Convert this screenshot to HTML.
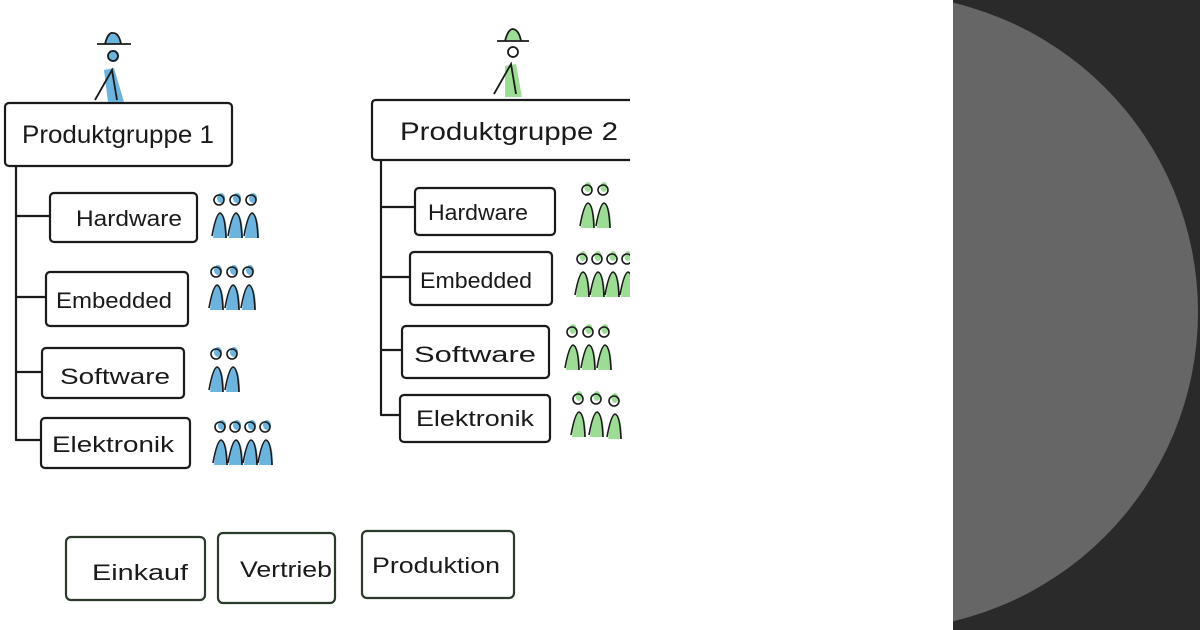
<!DOCTYPE html>
<html><head><meta charset="utf-8"><style>
html,body{margin:0;padding:0;width:1200px;height:630px;overflow:hidden;background:#fff}
svg{display:block}
text{font-family:"Liberation Sans",sans-serif;fill:#1a1a1a}
</style></head><body>
<svg width="1200" height="630" viewBox="0 0 1200 630" xmlns="http://www.w3.org/2000/svg">
<defs>
<g id="pb">
 <ellipse cx="2" cy="-2" rx="4" ry="5" fill="#6ab4de"/>
 <path d="M-6 38 Q-3 14 2 13 Q8 16 8 38 Z" fill="#6ab4de"/>
 <circle cx="0" cy="0" r="5" fill="none" stroke="#1a1a1a" stroke-width="1.6"/>
 <path d="M-7 36 Q-3 14 1 13 Q6 14 7 38" fill="none" stroke="#1a1a1a" stroke-width="1.6"/>
</g>
<g id="pg">
 <ellipse cx="1" cy="-3" rx="3.5" ry="5" fill="#9ddc94"/>
 <path d="M-6 38 Q-3 14 2 13 Q8 16 8 38 Z" fill="#9ddc94"/>
 <circle cx="0" cy="0" r="5" fill="none" stroke="#1a1a1a" stroke-width="1.6"/>
 <path d="M-7 36 Q-3 14 1 13 Q6 14 7 38" fill="none" stroke="#1a1a1a" stroke-width="1.6"/>
</g>
</defs>
<rect x="953" y="0" width="247" height="630" fill="#2a2a2a"/>
<clipPath id="c"><rect x="953" y="0" width="247" height="630"/></clipPath>
<ellipse cx="879" cy="312" rx="319" ry="318" fill="#666" clip-path="url(#c)"/>

<g fill="none" stroke="#1a1a1a" stroke-width="2.2" stroke-linejoin="round">
 <rect x="5" y="103" width="227" height="63" rx="4"/>
 <path d="M16 166 L16 440 L41 440"/>
 <path d="M16 216 L50 216 M16 297 L46 297 M16 372 L42 372"/>
 <rect x="50" y="193" width="147" height="49" rx="4"/>
 <rect x="46" y="272" width="142" height="54" rx="4"/>
 <rect x="42" y="348" width="142" height="50" rx="4"/>
 <rect x="41" y="418" width="149" height="50" rx="4"/>
 <path d="M640 100 L376 100 Q372 100 372 104 L372 156 Q372 160 376 160 L640 160"/>
 <path d="M381 160 L381 415 L400 415"/>
 <path d="M381 207 L415 207 M381 277 L410 277 M381 350 L402 350"/>
 <rect x="415" y="188" width="140" height="47" rx="4"/>
 <rect x="410" y="252" width="142" height="53" rx="4"/>
 <rect x="402" y="326" width="147" height="52" rx="4"/>
 <rect x="400" y="395" width="150" height="47" rx="4"/>
</g>
<g fill="none" stroke="#2b3a2b" stroke-width="2.2">
 <rect x="66" y="537" width="139" height="63" rx="5"/>
 <rect x="218" y="533" width="117" height="70" rx="5"/>
 <rect x="362" y="531" width="152" height="67" rx="5"/>
</g>

<g>
 <path d="M104 44 L122 44 L118 36 Q113 32 108 36 Z" fill="#6ab4de"/>
 <path d="M97 44 L131 44 M105 44 Q108 32 113 33 Q119 33 121 44" fill="none" stroke="#1a1a1a" stroke-width="1.8"/>
 <ellipse cx="114" cy="56" rx="5" ry="6" fill="#6ab4de"/>
 <circle cx="113" cy="56" r="5" fill="none" stroke="#1a1a1a" stroke-width="1.8"/>
 <path d="M104 70 L114 68 L124 102 L108 102 Z" fill="#6ab4de"/>
 <path d="M95 100 L112 70 L117 100" fill="none" stroke="#1a1a1a" stroke-width="1.8"/>

 <path d="M505 40 L522 40 L518 32 Q513 28 508 32 Z" fill="#9ddc94"/>
 <path d="M497 41 L529 41 M505 41 Q508 29 513 29 Q519 30 521 41" fill="none" stroke="#1a1a1a" stroke-width="1.8"/>
 <circle cx="513" cy="52" r="5" fill="none" stroke="#1a1a1a" stroke-width="1.8"/>
 <path d="M505 66 L516 64 L522 97 L505 97 Z" fill="#9ddc94"/>
 <path d="M494 94 L511 64 L516 94" fill="none" stroke="#1a1a1a" stroke-width="1.8"/>
</g>

<use href="#pb" x="219" y="200"/><use href="#pb" x="235" y="200"/><use href="#pb" x="251" y="200"/>
<use href="#pb" x="216" y="272"/><use href="#pb" x="232" y="272"/><use href="#pb" x="248" y="272"/>
<use href="#pb" x="216" y="354"/><use href="#pb" x="232" y="354"/>
<use href="#pb" x="220" y="427"/><use href="#pb" x="235" y="427"/><use href="#pb" x="250" y="427"/><use href="#pb" x="265" y="427"/>

<use href="#pg" x="587" y="190"/><use href="#pg" x="603" y="190"/>
<use href="#pg" x="582" y="259"/><use href="#pg" x="597" y="259"/><use href="#pg" x="612" y="259"/><use href="#pg" x="627" y="259"/>
<use href="#pg" x="572" y="332"/><use href="#pg" x="588" y="332"/><use href="#pg" x="604" y="332"/>
<use href="#pg" x="578" y="399"/><use href="#pg" x="596" y="399"/><use href="#pg" x="614" y="401"/>
<rect x="630" y="0" width="323" height="630" fill="#fff"/>

<g font-size="25">
 <text x="22" y="143" textLength="192" lengthAdjust="spacingAndGlyphs">Produktgruppe 1</text>
 <text x="400" y="140" textLength="218" lengthAdjust="spacingAndGlyphs">Produktgruppe 2</text>
</g>
<g font-size="22">
 <text x="76" y="226" textLength="106" lengthAdjust="spacingAndGlyphs">Hardware</text>
 <text x="56" y="308" textLength="116" lengthAdjust="spacingAndGlyphs">Embedded</text>
 <text x="60" y="384" textLength="110" lengthAdjust="spacingAndGlyphs">Software</text>
 <text x="52" y="452" textLength="122" lengthAdjust="spacingAndGlyphs">Elektronik</text>
 <text x="428" y="220" textLength="100" lengthAdjust="spacingAndGlyphs">Hardware</text>
 <text x="420" y="288" textLength="112" lengthAdjust="spacingAndGlyphs">Embedded</text>
 <text x="414" y="362" textLength="122" lengthAdjust="spacingAndGlyphs">Software</text>
 <text x="416" y="426" textLength="118" lengthAdjust="spacingAndGlyphs">Elektronik</text>
 <text x="92" y="580" textLength="96" lengthAdjust="spacingAndGlyphs">Einkauf</text>
 <text x="240" y="577" textLength="92" lengthAdjust="spacingAndGlyphs">Vertrieb</text>
 <text x="372" y="573" textLength="128" lengthAdjust="spacingAndGlyphs">Produktion</text>
</g>
</svg>
</body></html>
